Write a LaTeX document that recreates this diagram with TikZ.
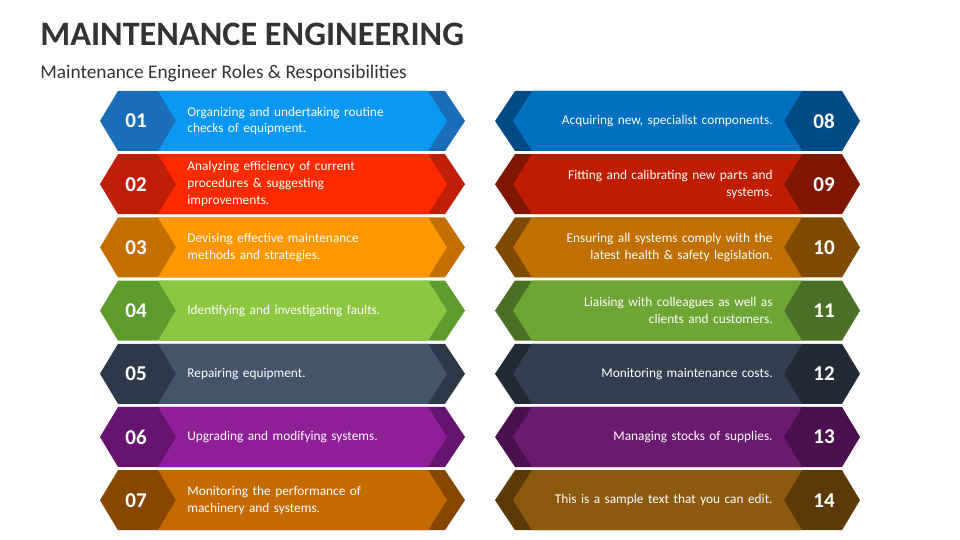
\documentclass[tikz,border=0pt]{standalone}
\usepackage{fontspec}
\setmainfont{Carlito}
\definecolor{lA}{HTML}{0A98F2}\definecolor{dA}{HTML}{1A6DB8}
\definecolor{lB}{HTML}{FF2A00}\definecolor{dB}{HTML}{C01E08}
\definecolor{lC}{HTML}{FF9700}\definecolor{dC}{HTML}{C46E00}
\definecolor{lD}{HTML}{8DC63F}\definecolor{dD}{HTML}{5E9C2E}
\definecolor{lE}{HTML}{44546A}\definecolor{dE}{HTML}{2D3949}
\definecolor{lF}{HTML}{8E1F96}\definecolor{dF}{HTML}{661470}
\definecolor{lG}{HTML}{C46A00}\definecolor{dG}{HTML}{874700}
\definecolor{lH}{HTML}{0070C0}\definecolor{dH}{HTML}{004A85}
\definecolor{lI}{HTML}{C01C00}\definecolor{dI}{HTML}{7F1600}
\definecolor{lJ}{HTML}{C07000}\definecolor{dJ}{HTML}{7F4A00}
\definecolor{lK}{HTML}{6FA535}\definecolor{dK}{HTML}{4A7025}
\definecolor{lL}{HTML}{333F50}\definecolor{dL}{HTML}{222A35}
\definecolor{lM}{HTML}{6B1A70}\definecolor{dM}{HTML}{4A1050}
\definecolor{lN}{HTML}{8B5A10}\definecolor{dN}{HTML}{5C3A08}
\tikzset{
  num/.style={text=white,font=\fontsize{12}{12}\selectfont\bfseries},
  txtL/.style={text=white,font=\fontsize{7.6}{9.6}\selectfont,align=left,text width=140,anchor=west,inner sep=0},
  txtR/.style={text=white,font=\fontsize{7.6}{9.6}\selectfont,align=right,text width=140,anchor=east,inner sep=0}
}
\begin{document}
\begin{tikzpicture}[x=0.02cm,y=-0.02cm]
\useasboundingbox (0,0) rectangle (960,540);
\node[anchor=base west,inner sep=0,font=\fontsize{19.5}{20}\selectfont\bfseries,text=black!80] (title) at (40,46) {MAINTENANCE ENGINEERING};
\node[anchor=base west,inner sep=0,font=\fontsize{11}{12}\selectfont,text=black!80] (subtitle) at (40,79) {Maintenance Engineer Roles \& Responsibilities};
% left column
\foreach \i/\c/\t in {1/A/{Organizing and undertaking routine\\checks of equipment.},
  2/B/{Analyzing efficiency of current\\procedures \& suggesting\\improvements.},
  3/C/{Devising effective maintenance\\methods and strategies.},
  4/D/{Identifying and investigating faults.},
  5/E/{Repairing equipment.},
  6/F/{Upgrading and modifying systems.},
  7/G/{Monitoring the performance of\\machinery and systems.}}{
  \pgfmathsetmacro\m{121+63.2*(\i-1)}
  \fill[d\c] (100,\m) -- (118,\m-30) -- (445,\m-30) -- (465,\m) -- (445,\m+30) -- (118,\m+30) -- cycle;
  \fill[l\c] (158,\m-30) -- (428,\m-30) -- (447,\m) -- (428,\m+30) -- (158,\m+30) -- (176,\m) -- cycle;
  \node[num] (nL\i) at (136,\m) {0\i};
  \node[txtL] (tL\i) at (187,\m) {\t};
}
% right column
\foreach \i/\c/\t in {8/H/{Acquiring new, specialist components.},
  9/I/{Fitting and calibrating new parts and\\systems.},
  10/J/{Ensuring all systems comply with the\\latest health \& safety legislation.},
  11/K/{Liaising with colleagues as well as\\clients and customers.},
  12/L/{Monitoring maintenance costs.},
  13/M/{Managing stocks of supplies.},
  14/N/{This is a sample text that you can edit.}}{
  \pgfmathsetmacro\m{121+63.2*(\i-8)}
  \fill[d\c] (860,\m) -- (842,\m-30) -- (515,\m-30) -- (495,\m) -- (515,\m+30) -- (842,\m+30) -- cycle;
  \fill[l\c] (802,\m-30) -- (532,\m-30) -- (513,\m) -- (532,\m+30) -- (802,\m+30) -- (784,\m) -- cycle;
  \node[num] (nR\i) at (824,\m) {\ifnum\i<10 0\fi\i};
  \node[txtR] (tR\i) at (773,\m) {\t};
}
\end{tikzpicture}
\end{document}
